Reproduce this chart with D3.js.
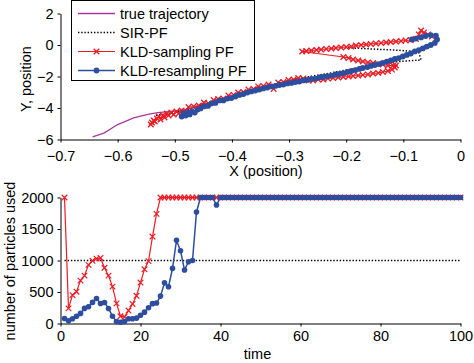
<!DOCTYPE html>
<html>
<head>
<meta charset="utf-8">
<script src="https://cdn.jsdelivr.net/npm/d3@7"></script>
<style>
  body { margin: 0; background: #fff; }
  svg { display: block; font-family: 'Liberation Sans', Arial, Helvetica, sans-serif; }
  .axis path, .axis line { stroke: #000; stroke-width: 1; }
  .axis text { font-family: 'Liberation Sans', Arial, Helvetica, sans-serif; font-size: 14.5px; fill: #000; }
  .label { font-size: 14.5px; fill: #000; }
</style>
</head>
<body>
<div id="chart"></div>
<script>
// ---- data: top plot (x, y positions) ----
let trueTrajectory = [
  [-0.644, -5.83], [-0.624, -5.59], [-0.600, -5.05], [-0.572, -4.63], [-0.547, -4.41], [-0.530, -4.30],
  [-0.488, -4.16], [-0.403, -3.33], [-0.342, -2.70], [-0.263, -2.19], [-0.193, -1.62], [-0.141, -1.17],
  [-0.106, -0.79], [-0.075, -0.29], [-0.048, 0.16], [-0.040, 0.48]
];

let sirTrajectory = [
  [-0.533, -4.48], [-0.488, -4.22], [-0.402, -3.33], [-0.342, -2.67], [-0.280, -2.10], [-0.237, -1.84],
  [-0.184, -1.49], [-0.129, -1.11], [-0.097, -1.02], [-0.069, -0.95], [-0.073, -0.48], [-0.080, -0.41],
  [-0.115, -0.32], [-0.158, -0.25], [-0.205, -0.16]
];

let kldSamplingTrajectory = [
  [-0.542, -5.05], [-0.537, -4.79], [-0.540, -4.92], [-0.531, -4.67], [-0.535, -4.86], [-0.528, -4.54],
  [-0.525, -4.73], [-0.521, -4.48], [-0.518, -4.60], [-0.514, -4.35], [-0.511, -4.48], [-0.506, -4.29],
  [-0.502, -4.41], [-0.497, -4.22], [-0.493, -4.35], [-0.488, -4.16], [-0.483, -4.22],
  [-0.476, -3.94], [-0.467, -3.90], [-0.458, -3.84], [-0.449, -3.65], [-0.441, -3.71], [-0.432, -3.49],
  [-0.424, -3.43], [-0.415, -3.40], [-0.406, -3.21], [-0.397, -3.17], [-0.389, -3.02], [-0.380, -2.98],
  [-0.371, -2.83], [-0.362, -2.79], [-0.354, -2.63], [-0.345, -2.60], [-0.336, -2.51], [-0.327, -2.79],
  [-0.319, -2.38], [-0.310, -2.35], [-0.301, -2.22], [-0.292, -2.19], [-0.284, -2.10], [-0.275, -2.13],
  [-0.266, -2.25], [-0.258, -2.25], [-0.249, -2.19], [-0.240, -2.19], [-0.232, -2.13], [-0.223, -2.10],
  [-0.214, -2.06], [-0.205, -2.03], [-0.196, -2.00], [-0.188, -1.97], [-0.179, -1.94], [-0.171, -1.90],
  [-0.162, -1.87], [-0.153, -1.81], [-0.144, -1.78], [-0.136, -1.71], [-0.127, -1.65], [-0.120, -1.56],
  [-0.115, -1.43], [-0.118, -1.30], [-0.113, -1.30],
  [-0.127, -1.30], [-0.136, -1.24], [-0.144, -1.21], [-0.153, -1.14], [-0.162, -1.11], [-0.171, -1.05],
  [-0.179, -0.98], [-0.188, -0.92], [-0.196, -0.83], [-0.205, -0.76],
  [-0.277, -0.41], [-0.270, -0.38], [-0.261, -0.35], [-0.252, -0.32], [-0.244, -0.29], [-0.235, -0.25],
  [-0.226, -0.22], [-0.218, -0.19], [-0.209, -0.16], [-0.200, -0.13], [-0.191, -0.10], [-0.183, -0.03],
  [-0.174, 0.00], [-0.165, 0.03], [-0.157, 0.06], [-0.148, 0.10], [-0.139, 0.13], [-0.130, 0.16],
  [-0.122, 0.19], [-0.113, 0.22], [-0.104, 0.25], [-0.096, 0.29], [-0.087, 0.32], [-0.078, 0.38],
  [-0.073, 0.67], [-0.069, 0.92], [-0.064, 0.79], [-0.057, 0.67], [-0.050, 0.54]
];

let kldResamplingTrajectory = [
  [-0.488, -4.54], [-0.485, -4.35], [-0.481, -4.48], [-0.477, -4.29], [-0.474, -4.41], [-0.470, -4.22],
  [-0.465, -4.29], [-0.460, -4.10], [-0.455, -4.03],
  [-0.449, -3.90], [-0.442, -3.87], [-0.436, -3.71], [-0.429, -3.68], [-0.422, -3.52], [-0.415, -3.52],
  [-0.408, -3.40], [-0.401, -3.37], [-0.394, -3.27], [-0.387, -3.17], [-0.380, -3.11], [-0.373, -3.02],
  [-0.366, -2.95], [-0.359, -2.89], [-0.352, -2.83], [-0.345, -2.76], [-0.338, -2.70], [-0.331, -2.63],
  [-0.324, -2.60], [-0.317, -2.54], [-0.310, -2.51], [-0.303, -2.44], [-0.296, -2.41], [-0.289, -2.35],
  [-0.282, -2.32], [-0.275, -2.25], [-0.268, -2.22], [-0.261, -2.16], [-0.254, -2.13], [-0.247, -2.06],
  [-0.240, -2.03], [-0.233, -1.97], [-0.226, -1.94], [-0.219, -1.87], [-0.212, -1.84], [-0.205, -1.78],
  [-0.198, -1.71], [-0.191, -1.65], [-0.184, -1.59], [-0.177, -1.52], [-0.171, -1.46], [-0.163, -1.40],
  [-0.157, -1.33], [-0.150, -1.27], [-0.143, -1.21], [-0.136, -1.14], [-0.129, -1.05], [-0.122, -0.98],
  [-0.115, -0.89], [-0.108, -0.83], [-0.101, -0.73], [-0.094, -0.63], [-0.087, -0.54], [-0.080, -0.41],
  [-0.073, -0.32], [-0.066, -0.22], [-0.059, -0.10], [-0.052, 0.00], [-0.045, 0.13], [-0.041, 0.35],
  [-0.043, 0.60], [-0.052, 0.63], [-0.061, 0.57], [-0.069, 0.48], [-0.078, 0.41], [-0.085, 0.35]
];

// ---- data: bottom plot (particles per time step, t = 1..100) ----
let kldSamplingCount = [
  2000, 240, 450, 505, 680, 760, 930, 995, 1030, 1040,
  885, 760, 585, 320, 115, 105, 205, 310, 440, 650,
  860, 990, 1380, 1740, 2000, 2000, 2000, 2000, 2000, 2000,
  2000, 2000, 2000, 2000, 2000, 2000, 2000, 2000, 2000, 2000,
  2000, 2000, 2000, 2000, 2000, 2000, 2000, 2000, 2000, 2000,
  2000, 2000, 2000, 2000, 2000, 2000, 2000, 2000, 2000, 2000,
  2000, 2000, 2000, 2000, 2000, 2000, 2000, 2000, 2000, 2000,
  2000, 2000, 2000, 2000, 2000, 2000, 2000, 2000, 2000, 2000,
  2000, 2000, 2000, 2000, 2000, 2000, 2000, 2000, 2000, 2000,
  2000, 2000, 2000, 2000, 2000, 2000, 2000, 2000, 2000, 2000
];

let kldResamplingCount = [
  80, 42, 75, 115, 160, 240, 265, 335, 398, 318,
  334, 239, 116, 30, 20, 30, 75, 75, 85, 130,
  180, 250, 315, 325, 435, 645, 583, 875, 1320, 1155,
  850, 980, 1000, 1770, 2000, 2000, 2000, 2000, 1880, 2000,
  2000, 2000, 2000, 2000, 2000, 2000, 2000, 2000, 2000, 2000,
  2000, 2000, 2000, 2000, 2000, 2000, 2000, 2000, 2000, 2000,
  2000, 2000, 2000, 2000, 2000, 2000, 2000, 2000, 2000, 2000,
  2000, 2000, 2000, 2000, 2000, 2000, 2000, 2000, 2000, 2000,
  2000, 2000, 2000, 2000, 2000, 2000, 2000, 2000, 2000, 2000,
  2000, 2000, 2000, 2000, 2000, 2000, 2000, 2000, 2000, 2000
];

let sirTime = [1, 100];
let sirCount = [1000, 1000];

// ---- tick labels / legend ----
let upperXTicks = [-0.7, -0.6, -0.5, -0.4, -0.3, -0.2, -0.1, 0];
let upperYTicks = [-6, -4, -2, 0, 2];
let lowerXTicks = [0, 20, 40, 60, 80, 100];
let lowerYTicks = [0, 500, 1000, 1500, 2000];
let legendNames = ['true trajectory', 'SIR-PF', 'KLD-sampling PF', 'KLD-resampling PF'];

let red = '#ec1c24';
let blue = '#2d4d9f';
let magenta = '#a8399c';

let width = 474;
let height = 363;

let svg = d3.select('#chart').append('svg').attr('width', width).attr('height', height);

let xSym = d3.symbol(d3.symbolX, 22);
let oneDecimal = d3.format('.1f');

//------------------ upper plot ------------------
let xUpper = d3.scaleLinear().domain([-0.7, 0]).range([60.5, 460.5]);
let yUpper = d3.scaleLinear().domain([-6, 2]).range([139.5, 13.5]);
let lineUpper = d3.line().x((d) => xUpper(d[0])).y((d) => yUpper(d[1]));

svg
  .append('g')
  .attr('class', 'axis')
  .attr('transform', 'translate(0,139.5)')
  .call(
    d3.axisBottom(xUpper).tickValues(upperXTicks).tickSize(3).tickSizeOuter(0).tickPadding(8)
      .tickFormat((d) => (d === 0 ? '0' : oneDecimal(d)))
  );

svg
  .append('g')
  .attr('class', 'axis')
  .attr('transform', 'translate(60.5,0)')
  .call(d3.axisLeft(yUpper).tickValues(upperYTicks).tickSize(3).tickSizeOuter(0).tickPadding(4));

//true trajectory
svg.append('path').datum(trueTrajectory).attr('d', lineUpper)
  .attr('fill', 'none').attr('stroke', magenta).attr('stroke-width', 1.3);

//SIR-PF
svg.append('path').datum(sirTrajectory).attr('d', lineUpper)
  .attr('fill', 'none').attr('stroke', '#000').attr('stroke-width', 1.5).attr('stroke-dasharray', '1.4,1.8');

//KLD-sampling
svg.append('path').datum(kldSamplingTrajectory).attr('d', lineUpper)
  .attr('fill', 'none').attr('stroke', red).attr('stroke-width', 1.1);
svg.append('g').selectAll('path').data(kldSamplingTrajectory).enter().append('path')
  .attr('d', xSym)
  .attr('transform', (d) => 'translate(' + xUpper(d[0]) + ',' + yUpper(d[1]) + ')')
  .attr('fill', 'none').attr('stroke', red).attr('stroke-width', 1.3);

//KLD-resampling
svg.append('path').datum(kldResamplingTrajectory).attr('d', lineUpper)
  .attr('fill', 'none').attr('stroke', blue).attr('stroke-width', 1.6);
svg.append('g').selectAll('circle').data(kldResamplingTrajectory).enter().append('circle')
  .attr('cx', (d) => xUpper(d[0]))
  .attr('cy', (d) => yUpper(d[1]))
  .attr('r', 2.9)
  .attr('fill', blue);

//axis labels
svg.append('text').attr('class', 'label').attr('x', 266).attr('y', 176)
  .attr('text-anchor', 'middle').text('X (position)');
svg.append('text').attr('class', 'label').attr('transform', 'translate(31,79) rotate(-90)')
  .attr('text-anchor', 'middle').text('Y, position');

//legend
let legend = svg.append('g');
legend.append('rect').attr('x', 71.5).attr('y', 0.5).attr('width', 183).attr('height', 80)
  .attr('fill', '#fff').attr('stroke', '#000').attr('stroke-width', 1);

legendNames.forEach((name, i) => {
  let ly = 13.5 + i * 19;
  let ln = legend.append('line').attr('x1', 78).attr('x2', 115).attr('y1', ly).attr('y2', ly);
  if (i === 0) ln.attr('stroke', magenta).attr('stroke-width', 1.3);
  if (i === 1) ln.attr('stroke', '#000').attr('stroke-width', 1.5).attr('stroke-dasharray', '1.4,1.8');
  if (i === 2) {
    ln.attr('stroke', red).attr('stroke-width', 1.1);
    legend.append('path').attr('d', xSym).attr('transform', 'translate(96.5,' + ly + ')')
      .attr('fill', 'none').attr('stroke', red).attr('stroke-width', 1.3);
  }
  if (i === 3) {
    ln.attr('stroke', blue).attr('stroke-width', 1.6);
    legend.append('circle').attr('cx', 96.5).attr('cy', ly).attr('r', 2.9).attr('fill', blue);
  }
  legend.append('text').attr('class', 'label').attr('x', 120).attr('y', ly).attr('dy', '0.36em').text(name);
});

//------------------ lower plot ------------------
let xLower = d3.scaleLinear().domain([0, 100]).range([60.5, 460.5]);
let yLower = d3.scaleLinear().domain([0, 2000]).range([323.5, 197.5]);
let lineLower = d3.line().x((d, i) => xLower(i + 1)).y((d) => yLower(d));

svg
  .append('g')
  .attr('class', 'axis')
  .attr('transform', 'translate(0,323.5)')
  .call(d3.axisBottom(xLower).tickValues(lowerXTicks).tickSize(3).tickSizeOuter(0).tickPadding(4.5));

svg
  .append('g')
  .attr('class', 'axis')
  .attr('transform', 'translate(60.5,0)')
  .call(
    d3.axisLeft(yLower).tickValues(lowerYTicks).tickSize(3).tickSizeOuter(0).tickPadding(4)
      .tickFormat(d3.format('d'))
  );

//SIR constant
svg.append('line')
  .attr('x1', xLower(sirTime[0])).attr('x2', xLower(sirTime[1]))
  .attr('y1', yLower(sirCount[0])).attr('y2', yLower(sirCount[1]))
  .attr('stroke', '#000').attr('stroke-width', 1.5).attr('stroke-dasharray', '1.4,1.8');

//KLD-sampling count
svg.append('path').datum(kldSamplingCount).attr('d', lineLower)
  .attr('fill', 'none').attr('stroke', red).attr('stroke-width', 1.2);
svg.append('g').selectAll('path').data(kldSamplingCount).enter().append('path')
  .attr('d', xSym)
  .attr('transform', (d, i) => 'translate(' + xLower(i + 1) + ',' + yLower(d) + ')')
  .attr('fill', 'none').attr('stroke', red).attr('stroke-width', 1.2);

//KLD-resampling count
svg.append('path').datum(kldResamplingCount).attr('d', lineLower)
  .attr('fill', 'none').attr('stroke', blue).attr('stroke-width', 1.5);
svg.append('g').selectAll('circle').data(kldResamplingCount).enter().append('circle')
  .attr('cx', (d, i) => xLower(i + 1))
  .attr('cy', (d) => yLower(d))
  .attr('r', 2.8)
  .attr('fill', blue);

//axis labels
svg.append('text').attr('class', 'label').attr('x', 257.5).attr('y', 359)
  .attr('text-anchor', 'middle').text('time');
svg.append('text').attr('class', 'label').attr('transform', 'translate(14.5,261) rotate(-90)')
  .attr('text-anchor', 'middle').text('number of particles used');
</script>
</body>
</html>
